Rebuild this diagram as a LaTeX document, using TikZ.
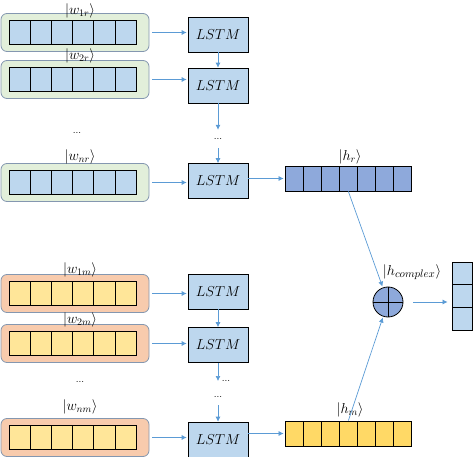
\documentclass[tikz,border=0pt]{standalone}
\usepackage{tikz}
\usetikzlibrary{arrows.meta,positioning,calc}
\usepackage{amsmath}
\definecolor{greenbg}{HTML}{E2EFDA}
\definecolor{orangebg}{HTML}{F8CBAD}
\definecolor{lightblue}{HTML}{BDD7EE}
\definecolor{yellowcell}{HTML}{FFE699}
\definecolor{hrblue}{HTML}{8EA9DB}
\definecolor{hmyellow}{HTML}{FFD966}
\definecolor{arrowblue}{HTML}{5B9BD5}
\definecolor{contborder}{HTML}{8497B0}
\tikzset{
  cont/.style={draw=contborder,line width=0.8pt,rounded corners=6pt,minimum width=148pt,minimum height=38pt,inner sep=0pt},
  cell/.style={draw=black,line width=0.8pt,minimum width=21.2pt,minimum height=24pt,inner sep=0pt},
  lstm/.style={draw=black,line width=0.6pt,fill=lightblue,minimum width=60pt,minimum height=35pt,inner sep=0pt,font=\fontsize{15}{17}\selectfont},
  flow/.style={draw=arrowblue,line width=0.7pt,-{Latex[length=5pt,width=5pt]}},
  vlabel/.style={inner sep=0pt,font=\fontsize{14}{16}\selectfont},
  dotsnode/.style={inner sep=0pt,minimum height=18pt,font=\normalsize}
}
\begin{document}
\begin{tikzpicture}[x=1pt,y=-1pt]
\useasboundingbox (0,0) rectangle (474,457);
% input rows: name/container y/label y/lstm y/background/cell colour/subscript
\foreach \n/\yc/\yl/\ym/\bg/\fc/\sub in {1/32.5/10.5/34.5/greenbg/lightblue/1r,
    2/79.5/56/85.5/greenbg/lightblue/2r,
    3/182.5/157/181/greenbg/lightblue/nr,
    4/293.5/270/291.5/orangebg/yellowcell/1m,
    5/343.5/320/345/orangebg/yellowcell/2m,
    6/437.5/407/439.5/orangebg/yellowcell/nm}{
  \node[cont,fill=\bg] (c\n) at (75,\yc) {};
  \foreach \i in {0,...,5}
    \node[cell,fill=\fc] (c\n-\i) at ({19.6+21.2*\i},\yc) {};
  \node[vlabel] (l\n) at (80,\yl) {$|w_{\sub}\rangle$};
  \node[lstm] (m\n) at (218,\ym) {$LSTM$};
  \draw[flow,shorten <=3pt,shorten >=1pt] (c\n) -- (c\n -| m\n.west);
}
% dots
\node[dotsnode] (dl1) at (77,133) {...};
\node[dotsnode] (dl2) at (80,382) {...};
\node[dotsnode] (dr) at (218,139) {...};
\node[dotsnode,minimum height=0pt] (dm1) at (226,381) {...};
\node[dotsnode,minimum height=16pt] (dm2) at (218,397) {...};
% vertical chain
\draw[flow] (m1) -- (m2);
\draw[flow] (m2) -- (dr);
\draw[flow] (dr) -- (m3);
\draw[flow] (m4) -- (m5);
\draw[flow] (m5) -- (m5.south |- dm1);
\draw[flow] (dm2) -- (m6);
% hidden states
\foreach \i in {0,...,6}{
  \node[cell,minimum width=18.1pt,minimum height=25pt,fill=hrblue] (hr-\i) at ({294.05+18.1*\i},178.5) {};
  \node[cell,minimum width=18.1pt,minimum height=25pt,fill=hmyellow] (hm-\i) at ({294.05+18.1*\i},433.5) {};
}
\node[vlabel] (lhr) at (350,157) {$|h_r\rangle$};
\node[vlabel] (lhm) at (350,410) {$|h_m\rangle$};
\draw[flow,shorten >=1pt] (m3.east |- hr-0) -- (hr-0.west);
\draw[flow,shorten >=1pt] (m6.east |- hm-0) -- (hm-0.west);
% combination
\node[circle,draw=black,line width=0.8pt,fill=hrblue,minimum size=30pt,inner sep=0pt] (plus) at (388,302) {};
\draw[line width=0.8pt] (plus.north) -- (plus.south) (plus.west) -- (plus.east);
\draw[flow,shorten >=1pt] (hr-3.south) -- (plus);
\draw[flow,shorten >=1pt] (hm-3.north) -- (plus);
\node[vlabel,font=\fontsize{15}{17}\selectfont] (lhc) at (412,272) {$|h_{complex}\rangle$};
\foreach \i in {0,1,2}
  \node[cell,minimum width=20pt,minimum height=22.7pt,fill=lightblue] (out-\i) at (462,{273.3+22.7*\i}) {};
\draw[flow,shorten <=10pt,shorten >=4pt] (plus) -- (plus -| out-1.west);
\end{tikzpicture}
\end{document}
